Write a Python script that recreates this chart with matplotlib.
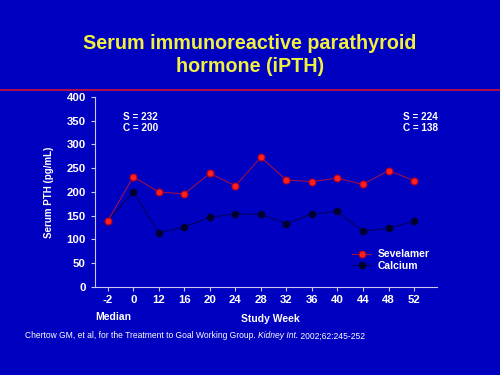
import matplotlib
matplotlib.use("Agg")
import matplotlib.pyplot as plt
import numpy as np

weeks = ["-2", "0", "12", "16", "20", "24", "28", "32", "36", "40", "44", "48", "52"]
sevelamer = [139, 232, 200, 196, 239, 213, 273, 225, 222, 229, 216, 245, 224]
calcium = [139, 200, 114, 126, 147, 154, 153, 133, 154, 159, 117, 124, 138]
yticks = [0, 50, 100, 150, 200, 250, 300, 350, 400]

BG = "#0000C0"
plt.rcParams["font.family"] = ["Liberation Sans", "DejaVu Sans"]
plt.rcParams["font.weight"] = "bold"

fig = plt.figure(figsize=(5, 3.75), dpi=100, facecolor=BG)
ax = fig.add_axes([0.19, 0.2347, 0.684, 0.5067], facecolor=BG)

x = np.arange(len(weeks))
ax.plot(x, calcium, color="#000060", lw=0.8, marker="o", ms=4.5,
        mfc="#000030", mec="#000030", label="Calcium", zorder=2)
ax.plot(x, sevelamer, color="#B01040", lw=0.7, marker="o", ms=5,
        mfc="#FF2020", mec="#B00020", mew=0.8, label="Sevelamer", zorder=3)

ax.set_xlim(-0.5, 12.9)
ax.set_ylim(0, 400)
ax.set_xticks(x)
ax.set_xticklabels(weeks)
ax.set_yticks(yticks)
for s in ["top", "right"]:
    ax.spines[s].set_visible(False)
for s in ["left", "bottom"]:
    ax.spines[s].set_color("#C8C8F0")
    ax.spines[s].set_linewidth(0.8)
ax.tick_params(colors="#C8C8F0", labelcolor="white", labelsize=8.2, length=3, width=0.8)
for lab in ax.get_xticklabels() + ax.get_yticklabels():
    lab.set_fontweight("bold")
ax.tick_params(axis="x", pad=3)

ax.set_ylabel("Serum PTH (pg/mL)", color="white", fontsize=7, fontweight="bold", labelpad=9)

handles, labels = ax.get_legend_handles_labels()
leg = ax.legend(handles[::-1], labels[::-1], frameon=False, loc="upper left",
                bbox_to_anchor=(0.74, 0.22), fontsize=7.5, handlelength=1.8,
                handletextpad=0.6, labelspacing=0.15, borderaxespad=0)
for t in leg.get_texts():
    t.set_color("white")
    t.set_fontweight("bold")

ax.text(0.082, 0.92, "S = 232\nC = 200", transform=ax.transAxes, color="white",
        fontsize=7.2, fontweight="bold", va="top", linespacing=1.1)
ax.text(0.90, 0.92, "S = 224\nC = 138", transform=ax.transAxes, color="white",
        fontsize=7.2, fontweight="bold", va="top", linespacing=1.1)

fig.text(0.5, 0.853, "Serum immunoreactive parathyroid\nhormone (iPTH)", color="#F0F040",
         fontsize=14.2, fontweight="bold", ha="center", va="center", linespacing=1.28)
fig.add_artist(plt.Line2D([0, 1], [0.759, 0.759], color="#D01030", lw=1.2, transform=fig.transFigure))

fig.text(0.226, 0.154, "Median", color="white", fontsize=7.5, fontweight="bold", ha="center", va="center")
fig.text(0.54, 0.149, "Study Week", color="white", fontsize=7.5, fontweight="bold", ha="center", va="center")

# citation with italic journal
renderer = fig.canvas.get_renderer()
parts = [("Chertow GM, et al, for the Treatment to Goal Working Group. ", "normal"),
         ("Kidney Int.", "italic"), (" 2002;62:245-252", "normal")]
xpos = 25
for txt, style in parts:
    t = fig.text(xpos / 500, 1 - 336 / 375, txt, color="white", fontsize=6.15,
                 fontweight="normal", fontstyle=style, ha="left", va="center")
    bb = t.get_window_extent(renderer=renderer)
    xpos += bb.width

fig.savefig("out.png", dpi=100, facecolor=BG)
